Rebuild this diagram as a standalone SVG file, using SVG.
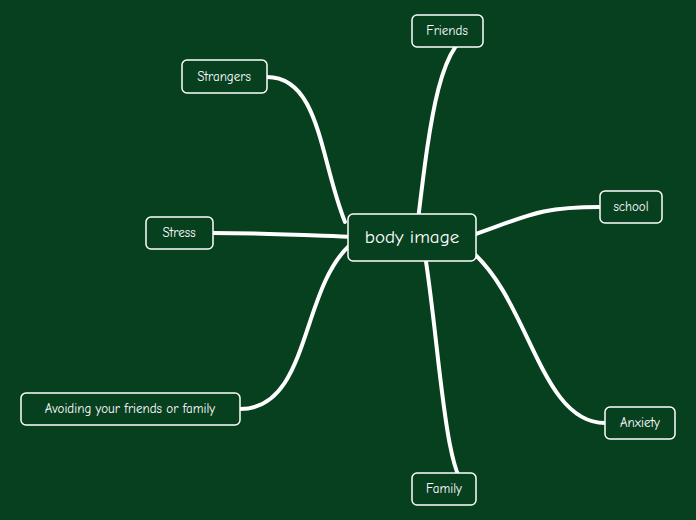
<svg xmlns="http://www.w3.org/2000/svg" width="696" height="520" viewBox="0 0 696 520">
<style>
.n{fill:#07401f;stroke:#fff;stroke-width:1.5}
.t{fill:#fff;font-family:"Comic Neue","Liberation Sans",sans-serif;font-size:13px;text-anchor:middle}
.c{fill:none;stroke:#fff;stroke-linecap:round}
</style>
<rect width="696" height="520" fill="#07401f"/>
<g id="connectors">
<path class="c" stroke-width="4" d="M418,220 C430,120 440,35 478,31"/>
<path class="c" stroke-width="4" d="M345,222 C320,160 320,77 267,77"/>
<path class="c" stroke-width="4" d="M470,236 C530,215 540,207 600,207"/>
<path class="c" stroke-width="4" d="M355,237 C300,235 260,233 213,233"/>
<path class="c" stroke-width="4" d="M350,245 C300,290 310,409 240,409"/>
<path class="c" stroke-width="4" d="M470,250 C530,300 540,423 605,423"/>
<path class="c" stroke-width="4" d="M425,255 C440,350 445,485 470,490"/>
</g>
<g id="center"><rect class="n" x="348" y="214" width="128" height="47" rx="5" stroke-width="2"/><text class="t" x="412" y="243" style="font-size:19px">body image</text></g>
<g id="friends"><rect class="n" x="412" y="15" width="71" height="32" rx="5"/><text class="t" x="447" y="35">Friends</text></g>
<g id="strangers"><rect class="n" x="182" y="60" width="85" height="33" rx="5"/><text class="t" x="224" y="81">Strangers</text></g>
<g id="school"><rect class="n" x="600" y="191" width="62" height="32" rx="5"/><text class="t" x="631" y="211">school</text></g>
<g id="stress"><rect class="n" x="146" y="217" width="67" height="32" rx="5"/><text class="t" x="179" y="237">Stress</text></g>
<g id="avoiding"><rect class="n" x="21" y="393" width="219" height="32" rx="5"/><text class="t" x="130" y="413">Avoiding your friends or family</text></g>
<g id="anxiety"><rect class="n" x="605" y="407" width="70" height="32" rx="5"/><text class="t" x="640" y="427">Anxiety</text></g>
<g id="family"><rect class="n" x="412" y="473" width="64" height="32" rx="5"/><text class="t" x="444" y="493">Family</text></g>
</svg>
